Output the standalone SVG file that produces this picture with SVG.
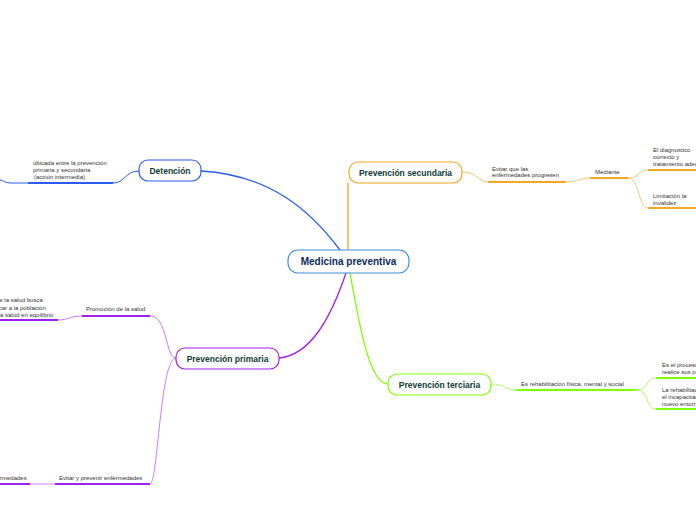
<svg xmlns="http://www.w3.org/2000/svg" width="696" height="520" viewBox="0 0 696 520">
<style>
.n{fill:#fff;stroke-width:1.2}
.t{font-family:"Liberation Sans",Arial,sans-serif;font-weight:bold;font-size:8.5px;fill:#0d3b33;text-anchor:middle}
.l{font-family:"Liberation Sans",Arial,sans-serif;font-size:6px;fill:#333}
.c{fill:none}
</style>
<rect width="696" height="520" fill="#fff"/>
<g id="connectors">
<path class="c" d="M201,171 C270,175 310,210 340,250" stroke="#2a5cf0" stroke-width="1.3"/>
<path class="c" d="M139,171 C125,171 125,183 113,183 L28,183 M28,183 L10,183 C5,183 3,180 0,180" stroke="#2a5cf0" stroke-width="1"/>
<path class="c" d="M28,183 L113,183" stroke="#2a5cf0" stroke-width="2"/>
<path class="c" d="M348,250 L348,183" stroke="#f5a623" stroke-width="1.3"/>
<path class="c" d="M462,172 C478,172 478,182 488,182" stroke="#f5c56b" stroke-width="1"/>
<path class="c" d="M488,182 L566,182" stroke="#f5a623" stroke-width="2"/>
<path class="c" d="M566,182 C578,182 580,178 590,178" stroke="#f5c56b" stroke-width="1"/>
<path class="c" d="M590,178 L628,178" stroke="#f5a623" stroke-width="2"/>
<path class="c" d="M628,178 C640,178 638,170 648,170 M628,178 C640,178 638,208 648,208" stroke="#f5c56b" stroke-width="1"/>
<path class="c" d="M648,170 L696,170 M648,208 L696,208" stroke="#f5a623" stroke-width="2"/>
<path class="c" d="M346,273 C330,320 310,355 279,358" stroke="#a020f0" stroke-width="1.3"/>
<path class="c" d="M176,358 C165,358 168,316 150,316 M176,358 C160,358 158,484 150,484" stroke="#c77dff" stroke-width="1"/>
<path class="c" d="M82,316 L150,316 M55,484 L150,484" stroke="#a020f0" stroke-width="2"/>
<path class="c" d="M82,316 C70,316 68,320 58,320 M55,484 C45,484 40,484 30,484" stroke="#c77dff" stroke-width="1"/>
<path class="c" d="M0,320 L58,320 M0,484 L30,484" stroke="#a020f0" stroke-width="2"/>
<path class="c" d="M350,273 C360,330 370,384 388,384" stroke="#7fff00" stroke-width="1.3"/>
<path class="c" d="M491,384 C505,384 505,390 516,390" stroke="#b6f26a" stroke-width="1"/>
<path class="c" d="M516,390 L636,390" stroke="#7fff00" stroke-width="2"/>
<path class="c" d="M636,390 C650,390 645,378 656,378 M636,390 C650,390 645,409 656,409" stroke="#b6f26a" stroke-width="1"/>
<path class="c" d="M656,378 L696,378 M656,409 L696,409" stroke="#7fff00" stroke-width="2"/>
</g>
<g id="central"><rect class="n" x="288" y="250" width="121" height="23" rx="10" stroke="#3a8fd6"/><text class="t" x="348.5" y="265" style="font-size:10px;fill:#0b2a5a">Medicina preventiva</text></g>
<g id="deteccion"><rect class="n" x="139" y="160" width="62" height="21" rx="9" stroke="#2a5cf0"/><text class="t" x="170" y="174">Detención</text></g>
<g id="det1"><text class="l" x="33" y="165">ubicada entre la prevención</text><text class="l" x="33" y="172">primaria y secundaria</text><text class="l" x="34" y="179"> (acción intermedia)</text></g>
<g id="secundaria"><rect class="n" x="349" y="162" width="113" height="21" rx="9" stroke="#f5a623"/><text class="t" x="405.5" y="176">Prevención secundaria</text></g>
<g id="sec1"><text class="l" x="492" y="171">Evitar que las</text><text class="l" x="492" y="177">enfermedades progresen</text></g>
<g id="sec2"><text class="l" x="595" y="174">Mediante</text></g>
<g id="sec3"><text class="l" x="653" y="152">El diagnostico</text><text class="l" x="653" y="159">correcto y</text><text class="l" x="653" y="166">tratamiento adecuado</text></g>
<g id="sec4"><text class="l" x="653" y="198">Limitación la</text><text class="l" x="653" y="205">invalidez</text></g>
<g id="primaria"><rect class="n" x="176" y="348" width="103" height="21" rx="9" stroke="#a020f0"/><text class="t" x="227.5" y="362">Prevención primaria</text></g>
<g id="pri1"><text class="l" x="86" y="311">Promoción de la salud</text></g>
<g id="pri2"><text class="l" x="-42" y="302">La promoción de la salud busca</text><text class="l" x="-42" y="310">capacitar y educar a la población</text><text class="l" x="-42" y="317">para mantener la salud en equilibrio</text></g>
<g id="pri3"><text class="l" x="59" y="480">Evitar y prevenir enfermedades</text></g>
<g id="pri4"><text class="l" x="-35" y="480">prevenir enfermedades</text></g>
<g id="terciaria"><rect class="n" x="388" y="374" width="103" height="21" rx="9" stroke="#7fff00"/><text class="t" x="439.5" y="388">Prevención terciaria</text></g>
<g id="ter1"><text class="l" x="521" y="386">Es rehabilitación física, mental y social</text></g>
<g id="ter2"><text class="l" x="662" y="367">Es el proceso para que el paciente</text><text class="l" x="662" y="374">realice sus propias actividades</text></g>
<g id="ter3"><text class="l" x="662" y="392">La rehabilitación busca que</text><text class="l" x="662" y="399">el incapacitado se adapte a un</text><text class="l" x="662" y="406">nuevo entorno</text></g>
</svg>
